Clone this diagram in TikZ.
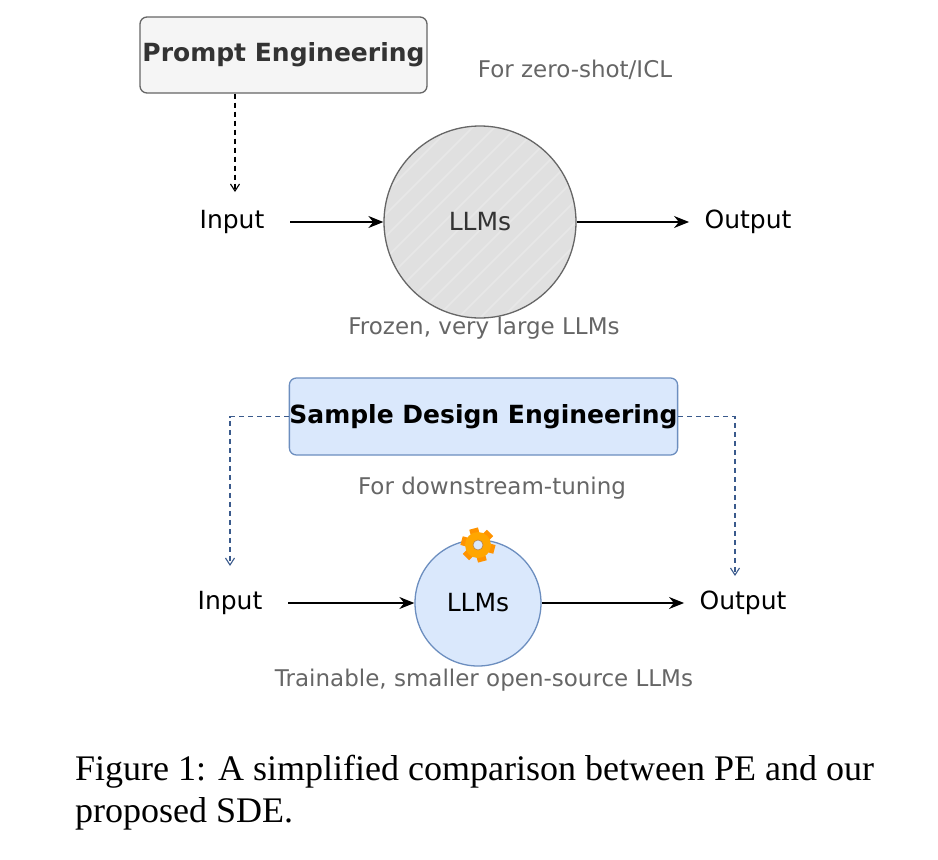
\documentclass[tikz,border=0pt]{standalone}
\usepackage{fontspec}
\setmainfont{Liberation Serif}
\newfontfamily\dfont{DejaVu Sans}
\usetikzlibrary{arrows.meta}
\definecolor{gborder}{HTML}{666666}
\definecolor{bborder}{HTML}{6C8EBF}
\definecolor{bfill}{HTML}{DAE8FC}
\definecolor{dashblue}{HTML}{3A5A8C}
\tikzset{
  lbl/.style={font=\dfont\fontsize{25}{29}\selectfont, text=black},
  sub/.style={font=\dfont\fontsize{23}{27}\selectfont, text=gborder},
  box/.style={draw, rounded corners=7pt, line width=1.3pt, font=\dfont\bfseries\fontsize{25}{29}\selectfont, inner sep=0pt},
  arr/.style={-{Stealth[length=15pt,width=12pt]}, line width=1.2pt},
  darr/.style={-{Straight Barb[length=7pt,width=9pt]}, line width=1.1pt, dash pattern=on 5pt off 4pt},
}
\begin{document}
\begin{tikzpicture}[x=1pt,y=-1pt]
\useasboundingbox (0,0) rectangle (938,860);
% top
\node[box, fill=gray!8, draw=gborder, text=black!80, minimum width=287pt, minimum height=76pt] (pe) at (283.5,55) {Prompt Engineering};
\node[sub] (zs) at (575,70) {For zero-shot/ICL};
\node[lbl] (in1) at (232,222) {Input};
\node[circle, draw=gborder, line width=1.3pt, fill=black!12, minimum size=192pt, inner sep=0pt] (llm1) at (480,222) {};
\begin{scope}
\clip (480,222) circle (95pt);
\foreach \k in {-8,...,8} \draw[white, line width=1.5pt, opacity=0.25] (380+\k*22,330) -- ++(220,-220);
\end{scope}
\node[lbl, text=black!80] at (480,222) {LLMs};
\node[lbl] (out1) at (748,222) {Output};
\node[sub] (fr) at (484,328) {Frozen, very large LLMs};
\coordinate (pein) at (235,192);
\coordinate (s1) at (290,222);
\draw[darr] (pe.south -| pein) -- (pein);
\draw[arr] (s1) -- (llm1.west);
\draw[arr] (llm1.east) -- ([xshift=-12pt]out1.west);
% bottom
\node[box, fill=bfill, draw=bborder, minimum width=387pt, minimum height=77pt] (sde) at (483.5,416.5) {Sample Design Engineering};
\node[sub] (dt) at (492,488) {For downstream-tuning};
\node[lbl] (in2) at (230,603) {Input};
\node[circle, draw=bborder, line width=1.3pt, fill=bfill, minimum size=126pt, inner sep=0pt, lbl] (llm2) at (478,603) {LLMs};
\node[lbl] (out2) at (743,603) {Output};
\node[sub] (tr) at (484,680) {Trainable, smaller open-source LLMs};
\coordinate (l2) at (230,566);
\coordinate (r2) at (735,576);
\coordinate (s2) at (288,603);
\draw[darr, draw=dashblue] (sde.west) -| (l2);
\draw[darr, draw=dashblue] (sde.east) -| (r2);
\draw[arr] (s2) -- (llm2.west);
\draw[arr] (llm2.east) -- ([xshift=-12pt]out2.west);
% gear
\begin{scope}[shift={(478,545)}]
\foreach \a in {0,60,...,300}
  \fill[orange!85!yellow, rotate=\a+15] (-4.5,-17) rectangle (4.5,0);
\fill[orange!70!yellow] (0,0) circle (13);
\fill[bfill] (0,0) circle (5);
\draw[orange!60!black!70, line width=0.6pt] (0,0) circle (5);
\end{scope}
% caption
\node[anchor=base west, font=\fontsize{36}{42}\selectfont, inner sep=0pt] (cap1) at (75,780) {Figure 1: A simplified comparison between PE and our};
\node[anchor=base west, font=\fontsize{36}{42}\selectfont, inner sep=0pt] (cap2) at (75,822) {proposed SDE.};
\end{tikzpicture}
\end{document}
